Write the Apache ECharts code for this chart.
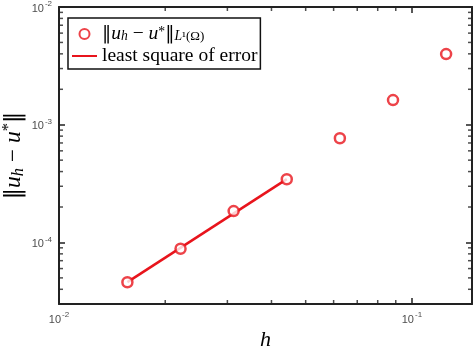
<!DOCTYPE html>
<html>
<head>
<meta charset="utf-8">
<script src="https://cdn.jsdelivr.net/npm/echarts@6/dist/echarts.min.js"></script>
<style>
  html, body { margin: 0; padding: 0; background: #fff; }
  #chart { width: 474px; height: 355px; }
</style>
</head>
<body>
<div id="chart"></div>
<script>
// mesh size h and the measured error
const hValues = [0.125, 0.0884, 0.0625, 0.0442, 0.03125, 0.0221, 0.015625];
const errValues = [3.98e-3, 1.62e-3, 7.67e-4, 3.44e-4, 1.846e-4, 8.84e-5, 4.59e-5];
// least-squares line, end points
const fitH = [0.015625, 0.0442];
const fitErr = [4.6e-5, 3.45e-4];

const xRange = [0.01, 0.148];
const yRange = [3e-5, 0.01];
const xMinor = [0.02, 0.03, 0.04, 0.05, 0.06, 0.07, 0.08, 0.09];
const yMinor = [4e-5, 5e-5, 6e-5, 7e-5, 8e-5, 9e-5,
  2e-4, 3e-4, 4e-4, 5e-4, 6e-4, 7e-4, 8e-4, 9e-4,
  2e-3, 3e-3, 4e-3, 5e-3, 6e-3, 7e-3, 8e-3, 9e-3];

const RED = '#e8141c';
const ERR_NAME = 'err';
const FIT_NAME = 'least square of error';

const chart = echarts.init(document.getElementById('chart'));

const powLabel = v => {
  const e = Math.log10(v);
  if (Math.abs(e - Math.round(e)) > 0.01) return '';
  return '{b|10}{s|' + Math.round(e) + '}';
};
const tickRich = {
  b: { fontFamily: 'Liberation Sans', fontSize: 11, color: '#4d4d4d', lineHeight: 14, verticalAlign: 'bottom' },
  s: { fontFamily: 'Liberation Sans', fontSize: 8, color: '#4d4d4d', lineHeight: 8, verticalAlign: 'top', padding: [0, 0, 0, 1] }
};

const mathRich = (size, lh) => ({
  n: { fontFamily: 'Liberation Serif', fontSize: size, color: '#000', lineHeight: lh },
  bar: { fontFamily: 'DejaVu Serif', fontSize: size * 0.95, color: '#000', lineHeight: lh },
  i: { fontFamily: 'Liberation Serif', fontStyle: 'italic', fontSize: size, color: '#000', lineHeight: lh },
  sub: { fontFamily: 'Liberation Serif', fontStyle: 'italic', fontSize: size * 0.7, color: '#000',
    lineHeight: size * 0.7, verticalAlign: 'bottom' },
  sup: { fontFamily: 'Liberation Serif', fontSize: size * 0.7, color: '#000',
    lineHeight: size * 0.7, verticalAlign: 'top' }
});

const axisCommon = {
  type: 'log',
  logBase: 10,
  axisLine: { show: true, onZero: false, lineStyle: { color: '#222', width: 2 } },
  axisTick: { show: true, inside: true, length: 6, lineStyle: { color: '#222', width: 1.5 } },
  splitLine: { show: false }
};

const tickSeries = (data, offset, w, h) => ({
  type: 'scatter',
  silent: true,
  symbol: 'rect',
  symbolSize: [w, h],
  symbolOffset: offset,
  itemStyle: { color: '#222' },
  clip: false,
  z: 1,
  data: data
});

const option = {
  animation: false,
  backgroundColor: '#fff',
  grid: { left: 59, right: 2, top: 7, bottom: 51, containLabel: false, outerBoundsMode: 'none' },
  legend: {
    data: [
      { name: ERR_NAME },
      { name: FIT_NAME, itemStyle: { opacity: 0 } }
    ],
    orient: 'vertical',
    left: 68,
    top: 18,
    padding: [6, 3, 3, 3],
    itemGap: 2,
    itemWidth: 25,
    itemHeight: 10,
    borderColor: '#111',
    borderWidth: 1.5,
    backgroundColor: '#fff',
    formatter: name => name === ERR_NAME
      ? '{bar|‖}{i|u}{sub|h}{n| − }{i|u}{sup|*}{bar|‖}{sub|L}{lsub|¹(Ω)}'
      : '{n|' + name + '}',
    textStyle: {
      rich: Object.assign(mathRich(19.5, 18), {
        lsub: { fontFamily: 'Liberation Serif', fontSize: 13, color: '#000', lineHeight: 13, verticalAlign: 'bottom' }
      })
    }
  },
  xAxis: [
    Object.assign({}, axisCommon, {
      position: 'bottom',
      min: xRange[0], max: xRange[1],
      name: 'h',
      nameLocation: 'middle',
      nameGap: 25,
      nameMoveOverlap: false,
      nameTextStyle: { fontFamily: 'Liberation Serif', fontStyle: 'italic', fontSize: 22, color: '#000' },
      axisLabel: { formatter: powLabel, rich: tickRich, margin: 7, showMaxLabel: false }
    }),
    Object.assign({}, axisCommon, {
      position: 'top',
      min: xRange[0], max: xRange[1],
      axisLabel: { show: false }
    })
  ],
  yAxis: [
    Object.assign({}, axisCommon, {
      position: 'left',
      min: yRange[0], max: yRange[1],
      name: '{bar|‖}{i|u}{sub|h}{n| − }{i|u}{sup|*}{bar|‖}',
      nameLocation: 'middle',
      nameGap: 32,
      nameRotate: 90,
      nameMoveOverlap: false,
      nameTextStyle: { rich: mathRich(23.5, 26) },
      axisLabel: { formatter: powLabel, rich: tickRich, margin: 7, showMinLabel: false }
    }),
    Object.assign({}, axisCommon, {
      position: 'right',
      min: yRange[0], max: yRange[1],
      axisLabel: { show: false }
    })
  ],
  series: [
    {
      name: FIT_NAME,
      type: 'line',
      symbol: 'none',
      lineStyle: { color: RED, width: 2.5 },
      itemStyle: { color: RED },
      z: 3,
      data: fitH.map((h, i) => [h, fitErr[i]])
    },
    {
      name: ERR_NAME,
      type: 'scatter',
      symbol: 'circle',
      symbolSize: 10,
      itemStyle: { color: '#fff', borderColor: RED, borderWidth: 2.5 },
      z: 4,
      data: hValues.map((h, i) => [h, errValues[i]])
    },
    tickSeries(xMinor.map(x => [x, yRange[0]]), [0, -2], 1.5, 4),
    tickSeries(xMinor.map(x => [x, yRange[1]]), [0, 2], 1.5, 4),
    tickSeries(yMinor.map(y => [xRange[0], y]), [2, 0], 4, 1.5),
    tickSeries(yMinor.map(y => [xRange[1], y]), [-2, 0], 4, 1.5)
  ]
};

chart.setOption(option);
</script>
</body>
</html>
